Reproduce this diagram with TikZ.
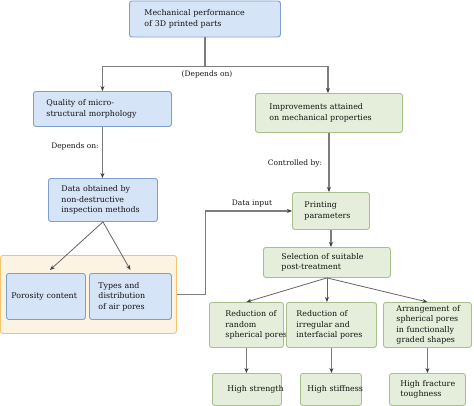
\documentclass[tikz,border=0pt]{standalone}
\usepackage{fontspec}
\setmainfont{DejaVu Serif}
\usetikzlibrary{arrows.meta, positioning, calc}
\definecolor{bluefill}{HTML}{D6E4F7}
\definecolor{blueline}{HTML}{7E9FCD}
\definecolor{greenfill}{HTML}{E5EEDA}
\definecolor{greenline}{HTML}{A7C08C}
\definecolor{orfill}{HTML}{FDF3E3}
\definecolor{orline}{HTML}{F5C36E}
\definecolor{conn}{HTML}{7D7D7D}
\definecolor{tipgray}{HTML}{3F3F3F}
\definecolor{txt}{HTML}{141414}

\begin{document}
\begin{tikzpicture}[x=1pt, y=-1pt,
  font=\fontsize{7.9}{10.4}\selectfont, text=txt,
  >={Stealth[length=5pt, width=4pt, color=tipgray]},
  box/.style={rounded corners=2.5pt, line width=0.9pt, align=left,
              anchor=north west, inner ysep=2pt},
  bluebox/.style={box, fill=bluefill, draw=blueline},
  greenbox/.style={box, fill=greenfill, draw=greenline},
  link/.style={draw=conn, line width=1.1pt},
  thinlink/.style={draw=conn!80!black, line width=0.8pt},
  lbl/.style={font=\fontsize{7.5}{9}\selectfont}]

% Frame of the picture
\useasboundingbox (0,0) rectangle (474,405);

% ========== Top ==========
\node[bluebox, text width=121, inner xsep=15, minimum height=36] (perf) at (129,0.5)
  {Mechanical performance\\of 3D printed parts};

% ========== Left branch ==========
\node[bluebox, text width=112, inner xsep=13, minimum height=35] (qual) at (33,91)
  {Quality of micro-\\structural morphology};
\node[bluebox, text width=83, inner xsep=13, minimum height=43] (data) at (48,178)
  {Data obtained by\\non-destructive\\inspection methods};

% Pores group
\node[box, fill=orfill, draw=orline, minimum width=176, minimum height=78] (pores) at (0,255) {};
\node[bluebox, text width=69, inner xsep=5, minimum height=46] (poro) at (6,273)
  {\mbox{Porosity content}};
\node[bluebox, text width=64, inner xsep=9, minimum height=46] (types) at (89,273)
  {Types and\\distribution\\of air pores};

% ========== Right branch ==========
\node[greenbox, text width=119, inner xsep=14, minimum height=39] (impr) at (255,93)
  {Improvements attained\\on mechanical properties};
\node[greenbox, text width=53, inner xsep=12, minimum height=37] (print) at (292,192)
  {Printing\\\mbox{parameters}};
\node[greenbox, text width=91, inner xsep=18, minimum height=30] (sel) at (263,247)
  {Selection of suitable\\post-treatment};

% Post-treatments
\node[greenbox, text width=42, inner xsep=16, minimum height=45] (rand) at (209,302)
  {\mbox{Reduction of}\\random\\\mbox{spherical pores}};
\node[greenbox, text width=70, inner xsep=10, minimum height=45] (irreg) at (286,302)
  {Reduction of\\irregular and\\interfacial pores};
\node[greenbox, text width=62, inner xsep=13, minimum height=45] (arr) at (383,302)
  {\mbox{Arrangement of}\\\mbox{spherical pores}\\\mbox{in functionally}\\graded shapes};

% Results
\node[greenbox, text width=39, inner xsep=15, minimum height=32] (strength) at (212,373)
  {\mbox{High strength}};
\node[greenbox, text width=47, inner xsep=7, minimum height=32] (stiff) at (300,373)
  {\mbox{High stiffness}};
\node[greenbox, text width=54, inner xsep=11, minimum height=32] (tough) at (389,373)
  {\mbox{High fracture}\\toughness};

% ========== Connectors ==========
\draw[link] (perf.south) -- ++(0,29) coordinate (split);
\draw[link, ->] (split) -| (qual.north);
\draw[link, ->] (split) -| ($(impr.north)+(-1,0)$);
\node[lbl] (dep) at (207,74) {(Depends on)};

\draw[link, ->] (qual.south) -- (qual.south |- data.north);
\node[lbl] (depon) at (75,146) {Depends on:};

\draw[thinlink, ->] (data.south) -- ($(poro.north)+(4,-3)$);
\draw[thinlink, ->] (data.south) -- ($(types.north)+(0,-3)$);

\draw[link, ->] (pores.east) -- ++(29,0) |- (print.west);
\node[lbl] (datain) at (252,204) {Data input};

\draw[link, ->] (impr.south) -- (impr.south |- print.north);
\node[lbl] (ctrl) at (295,163) {Controlled by:};

\draw[link, ->] (print.south) -- (print.south |- sel.north);

\draw[thinlink, ->] (sel.south) -- (rand.north);
\draw[thinlink, ->] (sel.south) -- (sel.south |- irreg.north);
\draw[thinlink, ->] (sel.south) -- (arr.north);

\draw[link, ->] (rand.south) -- (rand.south |- strength.north);
\draw[link, ->] (irreg.south) -- (irreg.south |- stiff.north);
\draw[link, ->] (arr.south) -- (arr.south |- tough.north);

\end{tikzpicture}
\end{document}
